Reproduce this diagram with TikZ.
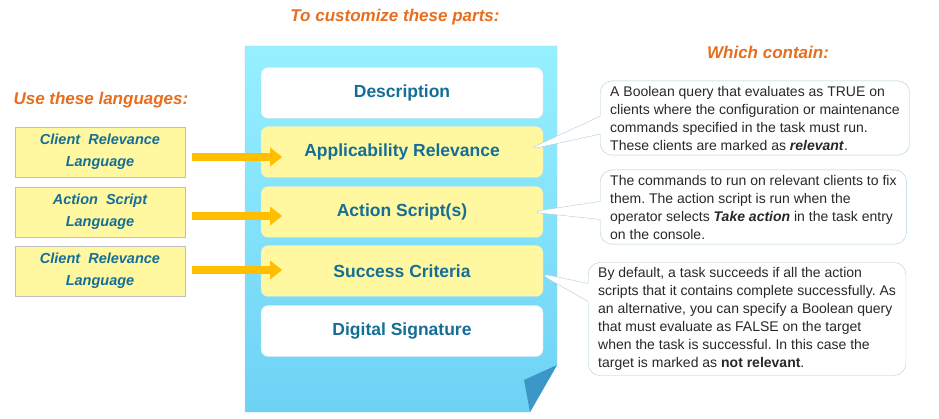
\documentclass[tikz,border=0pt]{standalone}
\usepackage{fontspec}
\setmainfont{Liberation Sans}
\frenchspacing
\usetikzlibrary{shapes.callouts,positioning,arrows.meta}
\definecolor{orng}{RGB}{230,110,30}
\definecolor{teal}{RGB}{20,110,150}
\definecolor{ylw}{RGB}{255,248,160}
\definecolor{arrw}{RGB}{255,190,0}
\definecolor{txtgray}{RGB}{40,40,40}
\tikzset{head/.style={text=orng,font=\fontsize{17}{20}\selectfont\bfseries\itshape},
         part/.style={draw=white!80!teal,rounded corners=7pt,minimum width=282pt,minimum height=51pt,
                      text=teal,font=\fontsize{17.5}{20}\selectfont\bfseries},
         lang/.style={draw=black!25,fill=ylw,minimum width=170pt,minimum height=50pt,align=center,
                      text=teal,font=\fontsize{14.5}{22}\selectfont\bfseries\itshape},
         note/.style={rectangle callout,draw=teal!35,fill=white,rounded corners=12pt,anchor=west,
                      callout pointer width=18pt,inner xsep=10pt,inner ysep=5pt,align=left,text=txtgray,
                      font=\fontsize{14}{18}\selectfont},
         flow/.style={draw=arrw,line width=8pt,-{Triangle[length=12pt,width=18pt]}}}
\begin{document}
\begin{tikzpicture}[x=1pt,y=-1pt]
	\useasboundingbox (0,0) rectangle (939,419);
	% page
	\shade[top color={rgb,255:red,150;green,240;blue,255},bottom color={rgb,255:red,110;green,210;blue,245},draw=white!70!teal]
	  (245,46) -- (557,46) -- (557,365) -- (530,412) -- (245,412) -- cycle;
	\fill[fill={rgb,255:red,60;green,150;blue,200}] (557,365) -- (524,380) -- (530,412) -- cycle;
	\node[head] (top) at (395,17) {To customize these parts:};
	\node[head] (cont) at (768,52) {Which contain:};
	\node[head,anchor=west] (use) at (10,100) {Use these languages:};
	% parts
	\node[part,fill=white] (desc) at (402,93) {Description};
	\node[part,fill=ylw] (appl) at (402,152) {Applicability Relevance};
	\node[part,fill=ylw] (acts) at (402,212) {Action Script(s)};
	\node[part,fill=ylw] (succ) at (402,271) {Success Criteria};
	\node[part,fill=white] (sign) at (402,331) {Digital Signature};
	% languages
	\node[lang] (crl1) at (100,152) {Client~~Relevance\\Language};
	\node[lang] (asl) at (100,212) {Action~~Script\\Language};
	\node[lang] (crl2) at (100,271) {Client~~Relevance\\Language};
	\draw[flow] (crl1.east) ++(7,5) coordinate (a1) -- ++(90,0);
	\draw[flow] (asl.east) ++(7,4) coordinate (a2) -- ++(90,0);
	\draw[flow] (crl2.east) ++(7,-1) coordinate (a3) -- ++(90,0);
	% notes
	\coordinate (p1) at (527,150);
	\coordinate (p2) at (530,212);
	\coordinate (p3) at (538,273);
	\node[note,callout absolute pointer={(p1)}] (n1) at (600,118)
	  {A Boolean query that evaluates as TRUE on\\clients where the configuration or maintenance\\commands specified in the task must run.\\These clients are marked as \textbf{\textit{relevant}}.};
	\node[note,callout absolute pointer={(p2)}] (n2) at (600,207)
	  {The commands to run on relevant clients to fix\\them. The action script is run when the\\operator selects \textbf{\textit{Take action}} in the task entry\\on the console.};
	\node[note,callout absolute pointer={(p3)}] (n3) at (588,319)
	  {By default, a task succeeds if all the action\\scripts that it contains complete successfully. As\\an alternative, you can specify a Boolean query\\that must evaluate as FALSE on the target\\when the task is successful. In this case the\\target is marked as \textbf{not relevant}.};
\end{tikzpicture}
\end{document}
